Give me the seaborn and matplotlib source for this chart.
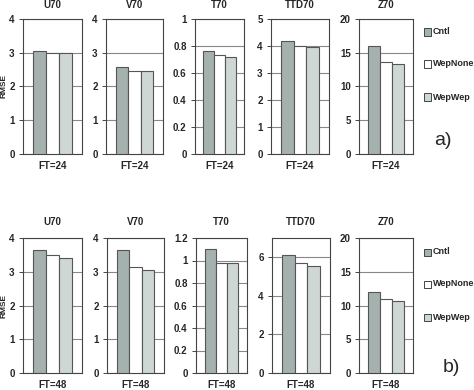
import numpy as np
import pandas as pd
import matplotlib
matplotlib.use('Agg')
import matplotlib.pyplot as plt
from matplotlib.patches import Rectangle
import seaborn as sns

runs = ['Cntl', 'WepNone', 'WepWep']
variables = ['U70', 'V70', 'T70', 'TTD70', 'Z70']

# RMSE per variable, FT=24
rmse_24 = {
    'U70': [3.05, 3.00, 3.00],
    'V70': [2.58, 2.47, 2.45],
    'T70': [0.76, 0.73, 0.72],
    'TTD70': [4.20, 4.00, 3.95],
    'Z70': [16.0, 13.7, 13.3],
}
# RMSE per variable, FT=48
rmse_48 = {
    'U70': [3.65, 3.50, 3.42],
    'V70': [3.65, 3.15, 3.05],
    'T70': [1.10, 0.98, 0.98],
    'TTD70': [6.10, 5.70, 5.57],
    'Z70': [12.0, 11.0, 10.6],
}

# (ymax, tick step)
ylims_24 = {'U70': (4, 1), 'V70': (4, 1), 'T70': (1, 0.2), 'TTD70': (5, 1), 'Z70': (20, 5)}
ylims_48 = {'U70': (4, 1), 'V70': (4, 1), 'T70': (1.2, 0.2), 'TTD70': (7, 2), 'Z70': (20, 5)}

colors = {'Cntl': '#a3b3b0', 'WepNone': '#ffffff', 'WepWep': '#cdd8d5'}

sns.set_style('white')
plt.rcParams['font.family'] = ['Liberation Sans', 'DejaVu Sans']

W, H = 474, 390
fig = plt.figure(figsize=(W / 100, H / 100), dpi=100)

# axes extents in pixels (left, right)
xpos_top = [(23, 82), (106, 163), (195, 244), (271, 329), (359, 413)]
xpos_bot = [(23, 82), (107, 164), (196, 247), (272, 330), (359, 413)]
rows = [
    (rmse_24, ylims_24, xpos_top, (19, 154), 'FT=24', [32, 64, 97], 'a)', (443, 140), 5),
    (rmse_48, ylims_48, xpos_bot, (238, 373), 'FT=48', [252, 284, 317], 'b)', (451, 368), 222),
]

for data, ylims, xpos, (ytop, ybot), ft, leg_y, tag, tagpos, title_y in rows:
    for i, var in enumerate(variables):
        x0, x1 = xpos[i]
        ax = fig.add_axes([x0 / W, 1 - ybot / H, (x1 - x0) / W, (ybot - ytop) / H])
        df = pd.DataFrame({'run': runs, 'rmse': data[var]})
        sns.barplot(data=df, x='run', y='rmse', hue='run', palette=colors,
                    width=1.0, edgecolor='#555555', linewidth=0.8,
                    legend=False, ax=ax, zorder=3)
        ymax, step = ylims[var]
        ticks = np.arange(0, ymax + step / 2, step)
        ax.set_ylim(0, ymax)
        ax.set_yticks(ticks)
        ax.set_yticklabels(['%g' % round(t, 1) for t in ticks])
        ax.set_xlim(-1.25, 3.25)
        ax.set_xticks([])
        ax.yaxis.grid(True, color='#888888', linewidth=0.8, zorder=0)
        ax.set_axisbelow(True)
        for s in ax.spines.values():
            s.set_color('#444444')
            s.set_linewidth(0.8)
        ax.tick_params(axis='y', left=True, length=3, width=0.7, color='#444444',
                       labelsize=7, pad=3)
        for lab in ax.get_yticklabels():
            lab.set_fontweight('bold')
        ax.set_xlabel(ft, fontsize=7, fontweight='bold', labelpad=5)
        ax.set_ylabel('')
        fig.text((x0 + x1) / 2 / W, 1 - title_y / H, var, fontsize=7, fontweight='bold',
                 ha='center', va='center')
    fig.text(4 / W, 1 - (ytop + ybot) / 2 / H, 'RMSE', fontsize=6, fontweight='bold',
             rotation=90, ha='center', va='center')

    for run, ly in zip(runs, leg_y):
        fig.patches.append(Rectangle((424 / W, 1 - (ly + 3.5) / H), 7 / W, 7 / H,
                                     transform=fig.transFigure, facecolor=colors[run],
                                     edgecolor='#444444', linewidth=0.7))
        fig.text(433 / W, 1 - ly / H, run, fontsize=6.5, fontweight='bold', va='center', ha='left')
    fig.text(tagpos[0] / W, 1 - tagpos[1] / H, tag, fontsize=14, va='center', ha='center')

fig.savefig('out.png', dpi=100)
